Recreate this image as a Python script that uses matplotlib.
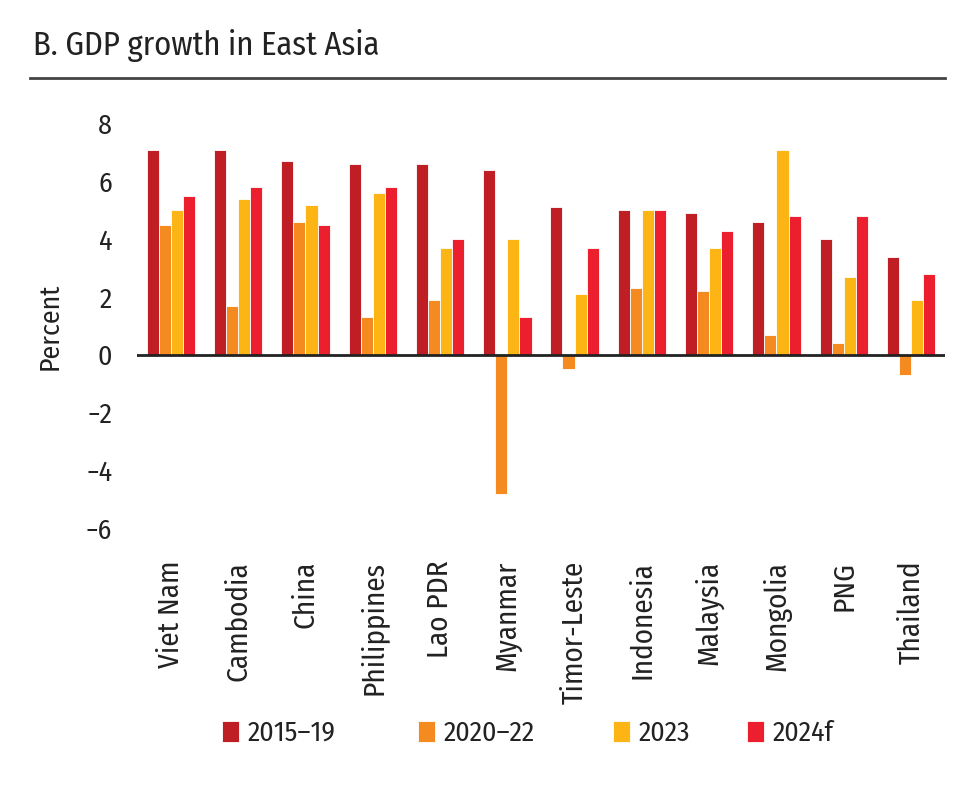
import numpy as np
import matplotlib
matplotlib.use('Agg')
import matplotlib.pyplot as plt
from matplotlib.lines import Line2D

countries = ["Viet Nam", "Cambodia", "China", "Philippines", "Lao PDR", "Myanmar",
             "Timor-Leste", "Indonesia", "Malaysia", "Mongolia", "PNG", "Thailand"]
g1519 = [7.1, 7.1, 6.7, 6.6, 6.6, 6.4, 5.1, 5.0, 4.9, 4.6, 4.0, 3.4]
g2022 = [4.5, 1.7, 4.6, 1.3, 1.9, -4.8, -0.5, 2.3, 2.2, 0.7, 0.4, -0.7]
g2023 = [5.0, 5.4, 5.2, 5.6, 3.7, 4.0, 2.1, 5.0, 3.7, 7.1, 2.7, 1.9]
g2024 = [5.5, 5.8, 4.5, 5.8, 4.0, 1.3, 3.7, 5.0, 4.3, 4.8, 4.8, 2.8]
series = ["2015\u201319", "2020\u201322", "2023", "2024f"]
colors = ["#BE1E24", "#F58A20", "#FDB515", "#EC1F2E"]

plt.rcParams['font.family'] = ['Fira Sans Condensed', 'Roboto Condensed', 'DejaVu Sans']
plt.rcParams['font.weight'] = 'normal'

fig = plt.figure(figsize=(9.8, 7.97), dpi=100)
ax = fig.add_axes([0.14, 0.319, 0.824, 0.544])

x = np.arange(len(countries))
w = 0.18
bars = []
for i, (vals, lab, c) in enumerate(zip([g1519, g2022, g2023, g2024], series, colors)):
    b = ax.bar(x + (i - 1.5) * w, vals, w, color=c, label=lab,
               edgecolor='white', linewidth=0.6)
    bars.append(b)

ax.axhline(0, color='#222222', linewidth=2, zorder=5)
ax.set_xlim(-0.5, 11.5)
ax.set_ylim(-6.5, 8.5)
ax.set_yticks([-6, -4, -2, 0, 2, 4, 6, 8])
ax.set_yticklabels(["\u22126", "\u22124", "\u22122", "0", "2", "4", "6", "8"])
ax.set_xticks(x)
ax.set_xticklabels(countries, rotation=90)
ax.tick_params(axis='both', length=0, labelsize=20, colors='#222222')
ax.tick_params(axis='x', labelsize=21, pad=13)
ax.tick_params(axis='y', pad=18)
for s in ax.spines.values():
    s.set_visible(False)
ax.set_ylabel("Percent", fontsize=20, color='#222222', labelpad=16)

fig.text(0.034, 0.943, "B. GDP growth in East Asia", fontsize=23.5, color='#222222',
         va='center', ha='left')
fig.add_artist(Line2D([0.031, 0.964], [0.902, 0.902], color='#444444', linewidth=2))

# legend entries placed one by one, as in the original layout
leg_x = [0.2265, 0.4265, 0.6255, 0.762]
for b, lab, lx in zip(bars, series, leg_x):
    lg = fig.legend([b], [lab], loc='center left', bbox_to_anchor=(lx, 0.08),
                    frameon=False, fontsize=20, handlelength=0.62, handleheight=0.8,
                    handletextpad=0.3, borderpad=0, borderaxespad=0,
                    labelcolor='#222222')

plt.savefig("out.png", dpi=100)
